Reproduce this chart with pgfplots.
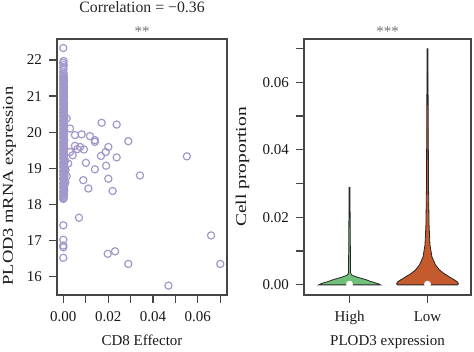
\documentclass[border=0pt]{standalone}
\usepackage{fontspec}
\setmainfont{Liberation Serif}
\usepackage{pgfplots}
\pgfplotsset{compat=1.18}
\definecolor{lav}{RGB}{163,152,204}
\definecolor{boxc}{RGB}{70,70,70}
\definecolor{vgreen}{RGB}{112,192,122}
\definecolor{vorange}{RGB}{196,90,46}
\begin{document}
\fontsize{15}{18}\selectfont
\begin{tikzpicture}[x=1pt,y=1pt]
\useasboundingbox (0,0) rectangle (474,351);
\pgfplotsset{every axis/.append style={
  scale only axis, anchor=south west,
  axis lines=box,
  axis line style={draw=boxc, line width=1.3pt},
  every tick/.style={boxc, line width=1.2pt},
  tick align=outside, major tick length=8pt,
  tick label style={font=\fontsize{15}{18}\selectfont, text=black!90},
  yticklabel style={xshift=-2pt},
  xticklabel style={yshift=-3pt},
  /pgf/number format/assume math mode=true,
  scaled x ticks=false, scaled y ticks=false,
  xtick pos=left, ytick pos=left, clip=false}}
% ---------- left: scatter ----------
\begin{axis}[at={(57pt,56pt)}, width=170pt, height=256pt,
  xmin=-0.0028, xmax=0.073, ymin=15.49, ymax=22.58,
  xtick={0,0.01,0.02,0.03,0.04,0.05,0.06,0.07},
  xticklabels={0.00,,0.02,,0.04,,0.06,},
  ytick={16,17,18,19,20,21,22},
  yticklabels={16,17,18,19,20,21,22}]
\addplot[only marks, mark=o, mark size=3.6pt, mark options={draw=lav, line width=1.2pt}] coordinates {
(0,22.33) (0.0001,21.97) (0,21.92) (0.0002,21.86) (0,21.80) (0.0001,21.74) (0,21.66) (0.0002,21.60) (0,21.55)
(0.0001,21.50) (0,21.45) (0.0002,21.40) (0,21.34) (0.0001,21.28) (0,21.22) (0.0002,21.17) (0,21.11) (0.0001,21.05)
(0,21.00) (0.0002,20.94) (0,20.88) (0.0001,20.82) (0,20.77) (0.0002,20.71) (0,20.65) (0.0001,20.60) (0,20.54)
(0.0003,20.48) (0,20.43) (0.0002,20.37) (0,20.31) (0.0001,20.25) (0,20.20) (0.0003,20.14) (0,20.08) (0.0002,20.02)
(0,19.97) (0.0001,19.91) (0,19.85) (0.0003,19.79) (0,19.74) (0.0002,19.68) (0,19.62) (0.0001,19.56) (0,19.51)
(0.0003,19.45) (0,19.39) (0.0002,19.33) (0,19.28) (0.0004,19.22) (0,19.16) (0.0002,19.10) (0,19.05) (0.0003,18.99)
(0,18.93) (0.0004,18.87) (0,18.82) (0.0002,18.76) (0,18.70) (0.0004,18.64) (0,18.59) (0.0002,18.53) (0,18.47)
(0.0003,18.41) (0,18.36) (0.0002,18.30) (0,18.24) (0.0001,18.18) (0,18.15)
(0.0002,21.52) (0.0001,21.47) (0.0003,21.42) (0.0002,21.37) (0.0001,21.31) (0.0003,21.25) (0.0001,21.19) (0.0002,21.14)
(0.0003,21.08) (0.0001,21.02) (0.0003,20.97) (0.0001,20.91) (0.0002,20.85) (0.0003,20.79) (0.0001,20.74) (0.0003,20.68)
(0.0002,20.62) (0.0003,20.57) (0.0001,20.51) (0.0002,20.45) (0.0004,20.40) (0.0001,20.34) (0.0003,20.28) (0.0002,20.22)
(0.0001,20.17) (0.0002,20.11) (0.0004,20.05) (0.0001,19.99) (0.0003,19.94) (0.0002,19.88) (0.0001,19.82) (0.0004,19.77)
(0.0001,19.71) (0.0003,19.65) (0.0002,19.59) (0.0004,19.54) (0.0001,19.48) (0.0002,19.42) (0.0004,19.36) (0.0001,19.31)
(0.0002,19.25) (0.0005,19.19) (0.0001,19.13) (0.0004,19.08) (0.0002,19.02) (0.0005,18.96) (0.0001,18.90) (0.0003,18.85)
(0.0005,18.79) (0.0001,18.73) (0.0003,18.67) (0.0005,18.62) (0.0001,18.56) (0.0004,18.50) (0.0002,18.44) (0.0004,18.39)
(0.0001,18.33) (0.0003,18.27) (0.0002,18.21)
(0.0015,20.38) (0.0022,19.13) (0.0015,18.78) (0.0010,18.95) (0.0008,19.20) (0.0009,18.60)
(0.0030,20.10) (0.0171,20.26) (0.0238,20.21) (0.0082,19.94) (0.0052,19.92) (0.0119,19.89) (0.0141,19.78)
(0.0141,19.73) (0.0290,19.75) (0.0052,19.62) (0.0075,19.59) (0.0063,19.53) (0.0092,19.52) (0.0201,19.59)
(0.0189,19.45) (0.0168,19.34) (0.0042,19.36) (0.0030,19.45) (0.0238,19.30) (0.0551,19.33) (0.0101,19.15)
(0.0191,19.07) (0.0141,18.97) (0.0201,18.71) (0.0342,18.80) (0.0089,18.67) (0.0112,18.44) (0.0220,18.37)
(0.0070,17.63) (0,17.42) (0,17.02) (0,16.86) (0,16.81) (0,16.52) (0.0198,16.63) (0.0231,16.70)
(0.0290,16.35) (0.0469,15.75) (0.0659,17.14) (0.0700,16.35)
};
\node[anchor=base, font=\fontsize{15.8}{18}\selectfont, text=black!85] at ([yshift=26pt]rel axis cs:0.5,1) {Correlation = −0.36};
\node[anchor=base, text=black!55] at ([yshift=2.5pt]rel axis cs:0.5,1) {**};
\node[anchor=base, rotate=90, text=black!90] at ([xshift=-44pt]rel axis cs:0,0.426) {\scalebox{1.23}[1]{PLOD3 mRNA expression}};
\node[anchor=base, text=black!90] at ([yshift=-50pt]rel axis cs:0.5,0) {CD8 Effector};
\end{axis}
% ---------- right: violins ----------
\begin{axis}[at={(304pt,56pt)}, width=167pt, height=256pt,
  xmin=0.416, xmax=2.558, ymin=-0.003, ymax=0.0728,
  xtick={1,2}, xticklabels={High,Low},
  ytick={0,0.01,0.02,0.03,0.04,0.05,0.06,0.07},
  yticklabels={0.00,,0.02,,0.04,,0.06,}]
\addplot[fill=vgreen, draw=black!85, line width=0.8pt] coordinates {
(1.396,0) (1.370,0.0003) (1.332,0.0006) (1.268,0.00104) (1.217,0.00148) (1.153,0.00193) (1.102,0.00225)
(1.051,0.00267) (1.026,0.00296) (1.013,0.00356) (1.005,0.0289)
(0.995,0.0289) (0.987,0.00356) (0.974,0.00296) (0.949,0.00267) (0.898,0.00225) (0.847,0.00193)
(0.783,0.00148) (0.732,0.00104) (0.668,0.0006) (0.630,0.0003) (0.604,0)
} -- cycle;
\addplot[fill=vorange, draw=black!85, line width=0.8pt] coordinates {
(2.383,0) (2.396,0.0003) (2.383,0.00089) (2.345,0.00148) (2.281,0.00237) (2.217,0.00326) (2.153,0.00444)
(2.102,0.00593) (2.057,0.0083) (2.032,0.01185) (2.020,0.0178) (2.013,0.0296) (2.005,0.0699)
(1.995,0.0699) (1.987,0.0296) (1.980,0.0178) (1.968,0.01185) (1.943,0.0083) (1.898,0.00593)
(1.847,0.00444) (1.783,0.00326) (1.719,0.00237) (1.655,0.00148) (1.617,0.00089) (1.604,0.0003) (1.617,0)
} -- cycle;
\addplot[only marks, mark=*, mark size=3.2pt, mark options={fill=white, draw=white}] coordinates {(1,0.0002) (2,0.0002)};
\node[anchor=base, text=black!55] at ([yshift=2.5pt]rel axis cs:0.5,1) {***};
\node[anchor=base, rotate=90, text=black!90] at ([xshift=-58pt]rel axis cs:0,0.5) {\scalebox{1.3}[1]{Cell proportion}};
\node[anchor=base, text=black!90] at ([yshift=-50pt]rel axis cs:0.5,0) {PLOD3 expression};
\end{axis}
\end{tikzpicture}
\end{document}
